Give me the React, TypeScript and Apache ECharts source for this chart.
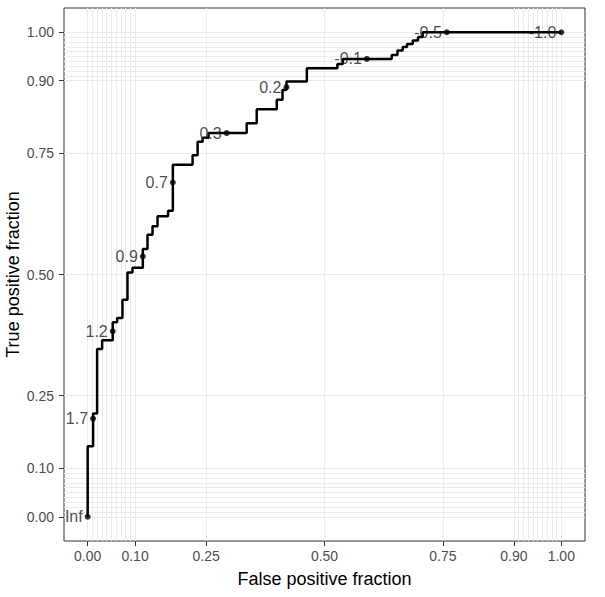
import React, { useEffect, useRef } from "react";
import * as echarts from "echarts";

// ROC curve corners (false positive fraction, true positive fraction)
const fpr = [
  0, 0, 0.0114, 0.0114, 0.0199, 0.0199, 0.0305, 0.0305, 0.0529, 0.0529,
  0.0622, 0.0622, 0.0734, 0.0734, 0.084, 0.084, 0.0946, 0.0946, 0.1164, 0.1164,
  0.1263, 0.1263, 0.1369, 0.1369, 0.1475, 0.1475, 0.1697, 0.1697, 0.1798, 0.1798,
  0.2215, 0.2215, 0.2321, 0.2321, 0.2427, 0.2427, 0.2553, 0.2553, 0.3357, 0.3357,
  0.3569, 0.3569, 0.3992, 0.3992, 0.4113, 0.4113, 0.4197, 0.4197, 0.4627, 0.4627,
  0.5272, 0.5272, 0.5388, 0.5388, 0.6418, 0.6418, 0.6541, 0.6541, 0.6651, 0.6651,
  0.6742, 0.6742, 0.6863, 0.6863, 0.6975, 0.6975, 0.7074, 0.7074, 1,
];
const tpr = [
  0, 0.1456, 0.1456, 0.213, 0.213, 0.3464, 0.3464, 0.3641, 0.3641, 0.4012,
  0.4012, 0.4103, 0.4103, 0.448, 0.448, 0.5043, 0.5043, 0.514, 0.514, 0.5526,
  0.5526, 0.5821, 0.5821, 0.5996, 0.5996, 0.6202, 0.6202, 0.6315, 0.6315, 0.7264,
  0.7264, 0.746, 0.746, 0.7738, 0.7738, 0.7821, 0.7821, 0.7918, 0.7918, 0.8124,
  0.8124, 0.8408, 0.8408, 0.8604, 0.8604, 0.881, 0.881, 0.8981, 0.8981, 0.9258,
  0.9258, 0.9346, 0.9346, 0.9449, 0.9449, 0.9532, 0.9532, 0.9625, 0.9625, 0.9697,
  0.9697, 0.9759, 0.9759, 0.9827, 0.9827, 0.9903, 0.9903, 1, 1,
];

// Labelled cutoffs
const cutLabels = ["Inf", "1.7", "1.2", "0.9", "0.7", "0.3", "0.2", "-0.1", "-0.5", "-1.0"];
const cutFpr = [0, 0.0114, 0.0529, 0.1164, 0.1798, 0.2934, 0.4197, 0.5896, 0.7582, 1];
const cutTpr = [0, 0.2027, 0.3827, 0.5373, 0.6899, 0.7918, 0.8866, 0.9449, 1, 1];

// Axis breaks and grid lines
const tickValues = [0, 0.1, 0.25, 0.5, 0.75, 0.9, 1];
const gridValues = [
  0, 0.01, 0.02, 0.03, 0.04, 0.05, 0.06, 0.07, 0.08, 0.09, 0.1,
  0.25, 0.5, 0.75,
  0.9, 0.91, 0.92, 0.93, 0.94, 0.95, 0.96, 0.97, 0.98, 0.99, 1,
];

const FONT = "'Liberation Sans', Arial, Helvetica, sans-serif";

export default function App() {
  const ref = useRef<HTMLDivElement>(null);

  useEffect(() => {
    if (!ref.current) return;
    const chart = echarts.init(ref.current, undefined, { renderer: "svg" });

    const axisCommon = (name: string) => ({
      type: "value" as const,
      min: -0.05,
      max: 1.05,
      name,
      nameLocation: "middle" as const,
      nameMoveOverlap: false,
      nameTextStyle: { color: "#000", fontSize: 18, fontFamily: FONT },
      axisLine: { show: false, onZero: false },
      splitLine: { show: false },
      axisTick: {
        show: true,
        customValues: tickValues,
        length: 5,
        lineStyle: { color: "#333333", width: 1 },
      },
      axisLabel: {
        customValues: tickValues,
        formatter: (v: number) => v.toFixed(2),
        color: "#4D4D4D",
        fontSize: 14,
        fontFamily: FONT,
      },
    });

    const xAxis: any = axisCommon("False positive fraction");
    xAxis.nameGap = 29;
    xAxis.axisLabel.margin = 8;
    const yAxis: any = axisCommon("True positive fraction");
    yAxis.nameGap = 42;
    yAxis.axisLabel.margin = 10;

    const gridLineStyle = { color: "#EBEBEB", width: 1, type: "solid" as const };

    chart.setOption({
      animation: false,
      grid: {
        left: 64,
        top: 8,
        width: 521,
        height: 533,
        containLabel: false,
        outerBoundsMode: "none",
        show: true,
        borderColor: "#333333",
        borderWidth: 1,
        backgroundColor: "#fff",
      },
      xAxis,
      yAxis,
      series: [
        {
          type: "line",
          z: 1,
          data: [[0, 0]],
          showSymbol: false,
          lineStyle: { opacity: 0 },
          silent: true,
          markLine: {
            z: 1,
            silent: true,
            symbol: "none",
            label: { show: false },
            lineStyle: gridLineStyle,
            emphasis: { disabled: true },
            data: [
              ...gridValues.map((v) => ({ xAxis: v })),
              ...gridValues.map((v) => ({ yAxis: v })),
            ],
          },
        },
        {
          type: "line",
          z: 3,
          data: fpr.map((x, i) => [x, tpr[i]]),
          showSymbol: false,
          lineStyle: { color: "#000", width: 2.5 },
          silent: true,
        },
        {
          type: "scatter",
          z: 4,
          data: cutFpr.map((x, i) => [x, cutTpr[i], cutLabels[i]]),
          symbol: "circle",
          symbolSize: 6,
          itemStyle: { color: "#000" },
          label: {
            show: true,
            position: "left",
            distance: 2,
            formatter: (p: any) => p.data[2],
            color: "#1a1a1a",
            fontSize: 16,
            fontFamily: FONT,
            textBorderWidth: 0,
          },
          silent: true,
        },
      ],
    });

    return () => chart.dispose();
  }, []);

  return (
    <div
      ref={ref}
      style={{ position: "fixed", left: 0, top: 0, width: 605, height: 597, background: "#fff" }}
    />
  );
}
